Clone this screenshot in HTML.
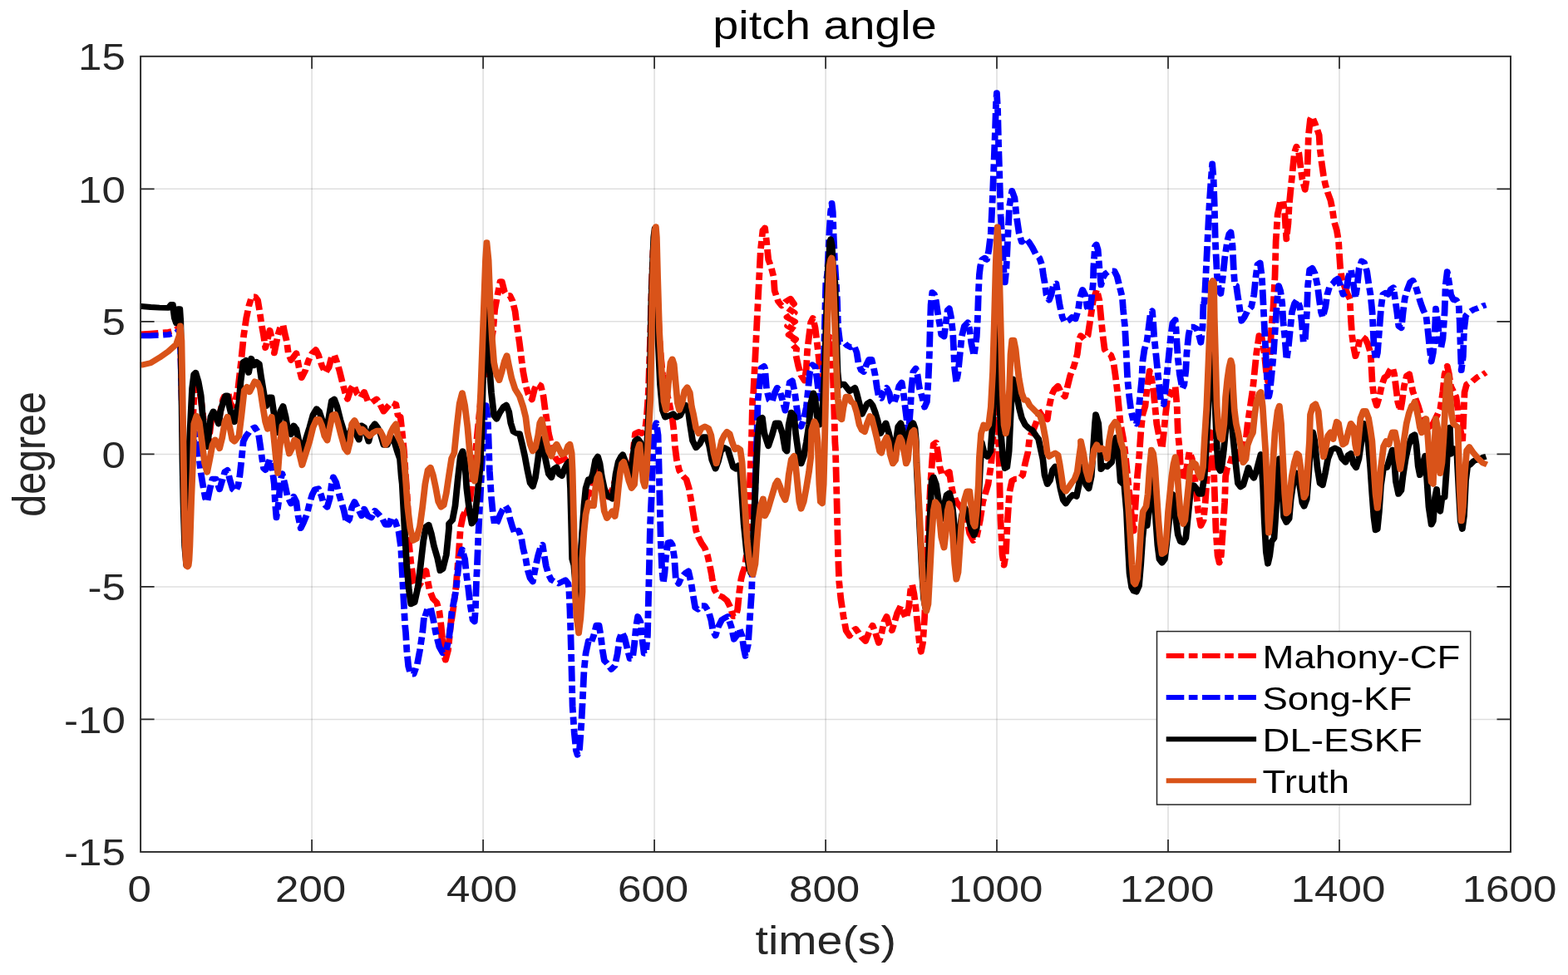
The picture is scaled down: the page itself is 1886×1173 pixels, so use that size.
<!DOCTYPE html>
<html lang="en"><head><meta charset="utf-8"><title>pitch angle</title>
<style>html,body{margin:0;padding:0;background:#fff;}body{width:1886px;height:1173px;overflow:hidden;}svg{display:block;}text{font-family:"Liberation Sans",sans-serif;}</style></head><body>
<svg width="1886" height="1173" viewBox="0 0 1886 1173">
<rect x="0" y="0" width="1886" height="1173" fill="#ffffff"/>
<path d="M375.1 67.8V1024.9M581.1 67.8V1024.9M787.1 67.8V1024.9M993.1 67.8V1024.9M1199.0 67.8V1024.9M1405.0 67.8V1024.9M1611.0 67.8V1024.9" stroke="#262626" stroke-opacity="0.15" stroke-width="1.6" fill="none"/>
<path d="M169.1 865.4H1817.0M169.1 705.9H1817.0M169.1 546.4H1817.0M169.1 386.8H1817.0M169.1 227.3H1817.0" stroke="#262626" stroke-opacity="0.15" stroke-width="1.5" fill="none"/>
<g fill="none" stroke-width="6.9" stroke-linejoin="round" stroke-linecap="butt" transform="scale(1.130 1)">
<polyline points="150.0,402.0 160.4,401.1 169.8,400.3 179.2,399.4 184.8,398.2 188.6,395.6 190.8,393.1 191.9,403.7 193.3,467.4 194.6,531.1 196.1,603.7 197.4,656.8 199.1,675.9 201.0,656.8 202.5,603.7 203.6,561.2 205.1,509.9 207.0,467.4 208.9,454.6 211.1,463.1 213.9,480.1 216.7,505.6 219.6,526.8 221.4,535.3 223.3,520.5 225.2,503.5 228.0,497.1 230.3,503.5 232.7,507.7 235.0,492.9 237.4,480.1 240.2,473.8 243.1,473.8 244.9,484.4 247.2,488.6 250.2,484.4 253.4,467.4 256.6,435.5 259.4,403.7 262.2,382.5 265.0,367.6 267.9,357.0 271.6,357.0 274.4,361.2 276.3,374.0 278.2,388.8 280.6,403.7 282.5,418.6 284.4,410.1 287.2,397.3 290.0,410.1 291.9,424.9 295.7,403.7 298.5,393.1 301.3,391.0 303.2,401.6 305.1,410.1 306.9,424.9 309.8,433.4 312.6,429.2 315.4,424.9 318.2,441.9 321.0,454.6 324.8,446.2 328.5,433.4 332.3,424.9 336.1,420.7 338.9,427.0 342.6,439.8 346.4,448.3 350.1,441.9 353.0,429.2 355.8,427.0 358.6,435.5 361.4,446.2 364.2,458.9 367.1,471.6 369.9,480.1 373.6,467.4 376.5,463.1 380.2,473.8 384.0,478.0 387.7,471.6 391.5,482.3 395.2,484.4 400.9,480.1 404.6,486.5 408.4,495.0 413.1,488.6 416.8,484.4 421.5,486.5 423.4,499.2 426.2,501.4 428.1,520.5 430.0,541.7 431.9,573.5 433.8,603.7 435.6,656.8 437.5,678.0 440.3,699.2 444.1,707.7 447.9,701.4 450.7,690.7 453.5,686.5 455.4,699.2 457.2,709.9 461.0,720.5 464.8,724.7 467.6,735.3 469.5,752.3 471.3,773.5 469.5,757.0 471.3,782.5 474.2,794.1 477.0,782.5 478.9,761.2 480.7,740.0 479.8,752.3 482.6,731.1 485.4,705.6 488.2,667.4 490.1,635.5 492.9,620.7 495.6,614.3 496.7,617.1 499.5,608.6 502.3,583.1 505.1,555.5 507.9,523.7 510.8,491.8 513.6,460.0 516.4,451.1 519.2,434.1 522.0,417.1 524.8,398.0 526.7,372.5 529.5,355.5 532.4,338.6 534.2,338.6 537.1,351.3 539.9,355.5 542.7,355.5 545.5,361.9 548.3,374.6 550.2,391.6 553.0,412.9 554.9,429.9 556.8,446.8 559.6,463.8 562.4,474.4 566.2,480.8 569.0,468.1 571.8,461.7 575.6,463.8 578.4,476.6 580.3,493.5 582.2,506.7 584.0,521.6 585.9,530.1 588.7,542.8 591.5,551.3 594.4,555.5 598.1,553.4 601.9,551.3 605.6,549.2 607.9,555.5 609.0,587.4 610.0,629.9 610.9,672.3 612.2,690.6 614.1,711.8 615.4,718.2 616.9,701.2 617.9,680.0 618.8,661.7 620.7,629.9 622.6,608.6 625.4,595.9 628.2,593.8 631.0,587.4 633.8,570.4 636.3,564.0 638.5,572.5 640.4,585.3 643.2,595.9 647.0,598.0 651.7,589.5 654.5,578.9 657.3,566.2 660.1,557.7 662.9,555.5 665.8,561.9 668.6,570.4 671.4,566.2 673.3,549.2 676.1,521.6 679.9,519.4 682.7,521.6 686.4,519.4 688.3,502.5 690.2,470.6 692.1,408.6 693.6,344.9 695.1,302.5 696.6,291.8 698.1,323.7 700.0,366.2 702.6,419.2 705.4,451.1 708.6,468.1 712.0,482.9 714.6,497.8 715.6,502.5 717.4,519.4 718.4,536.4 720.3,553.4 723.1,566.2 726.8,572.5 730.6,576.8 733.4,587.4 735.3,600.1 737.2,612.9 739.0,625.6 740.9,638.3 743.7,646.8 746.6,653.2 750.3,659.6 753.1,668.1 756.0,682.9 757.8,693.5 757.8,694.9 760.6,709.7 764.4,716.1 769.1,718.2 773.8,722.5 777.6,731.0 780.4,741.6 783.2,741.6 785.1,733.1 787.0,711.8 788.8,697.0 790.7,688.5 792.6,682.9 795.4,661.7 797.3,608.6 798.8,566.2 800.1,523.7 801.0,481.2 802.0,472.3 803.9,429.9 805.7,387.4 807.6,344.9 809.5,302.5 811.9,277.0 813.8,274.9 814.2,274.1 816.0,291.1 817.9,312.3 820.7,320.8 823.6,333.5 824.5,349.7 828.3,362.5 832.0,367.8 836.7,362.5 841.4,359.3 845.2,365.6 838.6,371.0 845.7,376.3 837.6,381.6 846.1,386.9 838.2,392.2 846.5,397.5 839.5,402.8 847.0,408.1 842.3,413.4 848.0,419.8 847.0,426.2 849.9,441.0 852.7,451.6 856.4,458.0 858.3,443.1 859.3,421.9 861.1,404.9 863.0,387.9 865.3,382.6 867.7,394.3 869.6,411.3 871.5,430.4 873.3,451.6 874.7,468.6 877.1,447.4 879.9,415.5 882.7,404.9 885.2,415.5 886.5,447.4 887.8,489.9 888.8,532.3 889.3,540.0 890.3,582.5 891.2,624.9 892.1,667.4 893.1,699.2 895.0,720.5 897.8,741.7 900.6,758.7 904.3,765.1 908.1,758.7 910.9,756.6 913.7,760.8 917.5,767.2 921.3,771.4 925.0,760.8 928.8,752.3 931.6,760.8 935.3,773.5 938.2,762.9 941.0,748.1 943.8,741.7 946.6,752.3 949.4,758.7 952.3,748.1 955.1,737.5 958.8,729.0 961.7,737.5 964.5,743.8 967.3,731.1 969.2,709.9 971.0,703.5 972.9,714.1 974.8,731.1 976.7,752.3 978.6,773.5 980.4,784.2 982.3,773.5 984.2,741.7 986.3,688.6 988.5,624.9 990.4,582.5 992.7,546.4 993.6,534.4 996.4,532.3 998.3,545.1 1000.2,561.2 1003.0,571.8 1006.7,569.7 1010.5,567.6 1012.4,582.5 1014.3,593.1 1018.0,603.7 1022.7,610.1 1028.4,620.7 1032.1,641.9 1035.9,650.4 1039.6,646.2 1043.4,624.9 1046.2,603.7 1049.0,593.1 1051.8,582.5 1054.7,561.2 1056.5,540.0 1058.0,500.5 1059.5,468.6 1061.0,455.9 1062.2,479.2 1063.1,532.3 1063.1,540.0 1064.1,582.5 1065.0,624.9 1066.9,667.4 1068.7,680.1 1070.6,667.4 1072.5,624.9 1074.4,593.1 1077.2,578.2 1081.0,576.1 1084.7,576.1 1088.5,571.8 1091.3,557.0 1094.1,544.2 1096.0,525.9 1099.8,517.5 1103.5,506.8 1107.3,496.2 1111.0,494.1 1114.8,504.7 1116.7,489.9 1119.5,475.0 1122.3,468.6 1126.1,464.4 1129.8,472.9 1133.6,477.1 1136.4,464.4 1139.2,451.6 1143.0,441.0 1146.7,426.2 1148.6,409.2 1150.4,403.7 1154.2,407.9 1158.0,403.7 1160.8,382.5 1163.6,361.2 1167.4,348.5 1170.2,361.2 1172.0,382.5 1173.9,403.7 1175.8,420.7 1178.6,424.9 1182.4,427.0 1185.2,435.5 1187.1,450.4 1189.0,467.4 1190.8,488.6 1192.7,509.9 1195.5,526.8 1197.4,541.7 1199.3,562.9 1201.2,583.7 1203.1,604.9 1204.9,626.2 1206.8,638.9 1208.7,604.9 1210.6,573.1 1212.4,552.3 1214.3,520.5 1216.2,499.2 1219.0,488.6 1220.9,467.4 1223.7,446.2 1225.6,454.6 1227.5,467.4 1229.4,488.6 1231.2,509.9 1234.1,526.8 1236.9,539.6 1238.8,520.5 1240.6,499.2 1242.5,480.1 1245.3,475.9 1248.1,467.4 1251.0,465.3 1252.8,488.6 1253.8,520.5 1255.7,541.7 1256.6,562.5 1259.4,577.3 1263.2,562.5 1266.0,543.4 1268.8,551.8 1271.6,573.1 1273.5,594.3 1275.4,615.5 1278.2,632.5 1281.0,626.2 1282.9,604.9 1284.8,573.1 1286.7,541.2 1288.5,520.0 1290.4,541.2 1292.3,573.1 1293.2,604.9 1294.2,636.8 1296.1,668.6 1297.9,677.1 1299.8,668.6 1301.7,636.8 1303.6,604.9 1304.5,573.1 1306.4,562.5 1309.2,558.2 1312.0,547.6 1315.8,543.4 1319.5,551.8 1323.3,541.2 1326.1,530.6 1328.0,509.9 1330.8,488.6 1333.6,467.4 1335.5,446.2 1337.4,424.9 1340.2,403.7 1343.0,405.8 1345.8,424.9 1347.7,446.2 1349.6,458.9 1351.5,435.5 1352.4,414.3 1353.4,393.1 1355.2,371.8 1357.1,332.3 1358.1,289.9 1359.9,258.0 1362.8,243.1 1365.6,241.0 1367.5,255.9 1368.4,272.9 1369.3,287.7 1371.2,268.6 1372.2,247.4 1374.0,226.2 1375.9,204.9 1377.8,183.7 1380.0,176.3 1382.5,183.7 1384.4,200.7 1386.2,215.5 1389.1,228.3 1390.9,215.5 1391.9,194.3 1392.8,162.5 1394.7,143.4 1396.6,140.2 1399.4,147.6 1402.2,156.1 1404.1,162.5 1405.0,179.4 1406.9,196.4 1408.8,211.3 1410.7,221.9 1413.5,232.5 1416.3,241.0 1418.2,251.6 1420.1,266.5 1422.9,277.1 1424.8,289.9 1425.7,306.8 1426.6,321.7 1428.5,336.6 1431.3,345.1 1434.2,353.5 1437.0,359.9 1437.2,369.2 1438.1,386.2 1439.1,403.1 1440.9,418.0 1442.8,428.6 1445.6,418.0 1447.5,407.4 1450.3,405.3 1453.1,407.4 1456.0,413.8 1458.8,424.4 1459.7,439.2 1460.7,460.5 1462.5,477.5 1465.4,488.1 1468.2,477.5 1471.0,462.6 1473.8,454.1 1476.6,452.0 1479.4,445.6 1482.3,442.4 1484.1,449.9 1486.0,466.8 1487.9,483.8 1490.7,494.4 1492.6,481.7 1494.5,464.7 1497.3,452.0 1500.1,449.9 1502.0,460.5 1503.9,471.1 1506.7,479.6 1509.5,488.1 1512.3,498.7 1515.1,505.1 1518.0,509.3 1521.7,513.5 1525.5,509.3 1529.2,500.8 1533.0,492.3 1535.8,471.1 1537.7,449.9 1540.5,440.3 1542.4,449.9 1544.3,464.7 1547.1,471.1 1549.9,477.5 1551.8,492.3 1553.7,513.5 1555.2,520.7 1556.7,533.4 1557.8,503.7 1558.9,471.8 1561.2,462.3 1566.8,459.1 1572.5,453.8 1578.1,450.6 1581.8,448.1" stroke="#ff0000" stroke-dasharray="18.6 5 9.2 5"/>
<polyline points="150.0,403.9 160.4,403.7 169.8,403.3 179.2,402.6 186.7,400.5 190.8,397.7 191.9,407.9 193.3,467.4 194.6,531.1 195.7,603.7 197.0,656.8 198.7,678.0 200.6,667.4 202.1,624.9 203.6,582.5 205.5,540.0 207.4,520.5 208.9,522.6 210.2,531.1 212.1,552.3 213.9,569.3 215.8,582.5 218.6,599.4 220.5,603.7 223.3,588.8 226.1,576.1 229.9,576.1 233.7,588.8 236.5,578.2 239.3,567.6 242.1,565.5 244.9,578.2 247.8,588.8 250.6,591.0 253.4,584.6 255.3,571.8 257.1,552.7 259.0,531.1 261.8,524.7 264.7,520.5 267.5,516.2 271.2,514.1 275.0,520.5 276.9,535.3 278.8,550.6 280.6,563.4 282.5,565.5 284.4,561.2 287.2,552.7 290.0,565.5 291.9,582.5 292.8,603.7 294.2,622.8 296.6,603.7 298.5,578.2 300.4,569.7 303.2,582.5 306.0,597.3 309.8,605.8 312.6,597.3 315.4,603.7 317.3,620.7 320.1,635.5 322.9,629.2 326.7,618.6 329.5,605.8 332.3,595.2 335.1,588.8 338.9,587.8 341.7,595.2 344.5,605.8 348.3,610.1 351.1,599.4 353.0,582.5 354.8,574.0 357.7,580.3 360.5,593.1 363.3,603.7 366.1,614.3 368.9,629.2 371.8,624.9 374.6,610.1 377.4,603.7 381.2,612.2 384.9,620.7 387.7,612.2 391.5,620.7 395.2,622.8 399.0,614.3 402.8,618.6 406.5,622.8 410.3,631.3 414.0,631.3 416.8,622.8 420.6,627.0 424.4,639.8 426.8,658.9 428.1,688.6 429.6,720.5 431.1,752.3 431.9,761.2 433.0,782.5 434.7,801.6 437.0,811.1 440.3,811.1 444.1,799.4 446.9,782.5 449.7,761.2 451.6,740.0 452.5,741.7 455.4,731.1 458.2,731.1 461.0,744.2 463.8,761.2 467.6,778.2 471.3,785.6 475.1,782.5 477.9,767.6 479.8,750.6 480.7,737.5 482.6,726.8 485.4,709.9 487.3,688.6 489.2,671.6 492.0,661.0 492.0,661.7 494.8,672.3 496.7,693.5 498.5,707.6 500.4,726.7 503.2,745.8 505.1,747.9 506.1,733.1 507.0,701.2 507.9,680.0 508.9,651.1 510.2,619.2 511.7,587.4 513.6,544.9 515.5,502.5 517.3,487.6 519.2,502.5 520.2,534.3 521.1,566.2 523.0,598.0 524.8,619.2 526.7,632.0 529.5,627.7 532.4,619.2 535.2,612.9 538.0,608.6 540.8,612.9 542.7,623.5 545.5,634.1 548.3,642.6 552.1,638.3 554.9,646.8 556.8,659.6 559.6,672.3 561.5,685.1 564.3,695.7 567.1,699.9 569.9,682.9 572.8,668.1 575.6,657.5 577.5,655.3 579.3,668.1 581.2,680.8 584.0,691.4 586.9,697.8 590.6,699.9 594.4,702.0 598.1,699.9 601.9,697.8 604.7,702.0 605.6,707.6 606.6,733.1 607.5,764.9 608.5,807.4 609.4,849.9 611.3,881.7 613.2,902.9 614.7,908.2 616.9,900.8 618.8,871.1 620.3,839.2 621.6,807.4 623.5,786.2 626.3,771.3 629.1,773.4 631.9,764.9 634.8,752.2 637.6,752.2 639.5,764.9 641.3,781.9 643.2,794.6 647.0,798.9 650.7,805.3 654.5,801.0 657.3,786.2 659.2,769.2 662.0,760.7 664.8,767.0 667.6,779.8 670.5,792.5 673.3,792.5 675.2,775.5 677.0,754.3 678.9,741.6 681.7,747.9 683.6,769.2 685.5,786.2 687.4,786.2 689.3,764.9 690.2,722.5 691.1,680.0 692.1,629.9 693.9,587.4 694.9,544.9 696.8,513.1 698.6,508.8 700.5,523.7 701.5,566.2 702.4,608.6 703.3,651.1 704.5,682.9 706.0,701.4 707.5,689.3 708.8,670.8 711.0,652.8 713.7,652.1 715.6,655.3 717.8,670.8 719.3,696.3 722.3,702.3 725.3,694.6 729.6,689.3 732.8,687.0 735.8,702.0 738.1,718.2 740.0,731.0 742.8,733.1 746.6,728.8 750.3,728.8 754.1,735.2 756.9,745.8 758.8,758.6 761.6,764.9 764.4,754.3 768.2,745.8 771.0,743.7 774.7,741.6 778.5,754.3 781.3,769.2 784.1,764.9 787.0,756.4 789.8,764.9 791.7,779.8 793.5,789.3 796.3,775.5 798.2,743.7 800.1,711.8 801.0,680.0 802.0,651.1 803.3,608.6 804.4,566.2 805.7,523.7 806.7,481.2 807.6,472.3 810.4,442.6 813.3,440.5 814.2,443.1 816.0,468.6 818.9,481.4 821.7,483.5 824.5,472.9 827.3,466.5 830.1,470.7 832.9,481.4 835.8,494.1 838.6,475.0 840.5,460.1 843.3,458.0 846.1,472.9 848.0,489.9 849.9,504.7 852.7,513.2 855.5,504.7 858.3,489.9 860.2,468.6 862.1,447.4 864.9,438.9 867.7,441.0 869.6,455.9 871.5,472.9 873.3,479.2 875.2,468.6 877.1,426.2 878.0,383.7 879.0,341.2 880.7,329.3 881.8,301.7 882.9,276.2 884.1,255.0 885.4,244.4 886.5,255.0 887.2,280.5 888.4,312.3 889.9,337.8 891.2,362.5 892.1,394.3 894.0,411.3 897.8,411.3 901.5,415.5 905.3,417.7 909.0,415.5 911.9,424.0 913.7,436.8 916.6,445.3 919.4,447.4 922.2,438.9 925.0,432.5 927.8,432.5 929.7,441.0 931.6,451.6 933.5,466.5 935.3,477.1 938.2,479.2 941.0,470.7 943.8,466.5 946.6,472.9 948.5,483.5 951.3,485.6 954.1,477.1 957.0,464.4 959.8,460.1 961.7,472.9 963.5,489.9 965.4,506.8 967.3,517.5 969.2,489.9 970.1,468.6 972.0,447.4 974.8,443.1 976.7,451.6 978.6,466.5 981.4,477.1 984.2,489.9 986.6,483.5 988.1,458.0 989.3,426.2 990.0,394.3 990.8,366.7 992.3,351.8 994.5,354.0 996.4,362.5 998.3,377.3 1000.2,390.1 1002.0,402.8 1004.9,404.9 1006.7,390.1 1008.6,373.1 1010.5,371.0 1012.4,381.6 1014.3,400.7 1015.2,421.9 1016.1,443.1 1018.0,460.1 1019.9,447.4 1021.8,426.2 1023.7,404.9 1026.5,392.2 1030.2,387.9 1032.1,396.4 1034.0,413.4 1036.8,428.3 1039.6,404.9 1040.6,383.7 1041.5,351.8 1042.4,330.6 1043.4,320.8 1045.3,312.3 1048.1,310.2 1050.5,312.3 1052.4,301.7 1054.7,280.5 1056.5,238.0 1058.0,195.5 1059.4,153.1 1060.3,121.2 1061.0,111.7 1062.0,131.8 1062.9,174.3 1064.1,216.8 1065.2,259.2 1066.9,291.1 1068.2,322.9 1069.7,339.9 1071.2,322.9 1072.5,291.1 1074.4,248.6 1077.2,229.5 1080.0,238.0 1081.9,259.2 1084.7,280.5 1087.5,291.1 1091.3,286.8 1095.1,291.1 1098.8,297.5 1102.6,305.9 1106.3,310.2 1109.1,318.7 1110.6,331.4 1112.0,339.9 1113.8,354.8 1116.7,361.1 1118.9,354.8 1121.4,342.0 1124.2,341.0 1126.1,354.0 1127.9,366.7 1130.8,381.6 1133.6,387.9 1137.3,385.8 1141.1,381.6 1144.8,383.7 1147.7,373.1 1149.5,358.2 1152.3,348.5 1155.1,354.9 1157.2,369.7 1160.2,374.0 1162.1,357.0 1163.6,340.0 1164.0,321.7 1165.5,296.2 1167.0,294.1 1168.7,300.5 1170.2,321.7 1172.0,342.9 1173.9,334.4 1176.7,329.1 1179.6,327.0 1182.4,325.9 1186.1,325.9 1189.0,332.3 1191.8,345.1 1194.6,357.8 1195.5,371.8 1197.4,393.1 1198.4,414.3 1199.3,435.5 1200.2,456.8 1202.1,478.0 1204.0,495.0 1206.8,507.7 1209.6,509.9 1211.5,499.2 1213.4,478.0 1215.3,456.8 1216.2,435.5 1218.1,420.7 1220.9,410.1 1222.8,393.1 1224.7,376.1 1226.5,374.0 1227.5,386.7 1228.4,403.7 1230.3,424.9 1232.2,446.2 1234.1,467.4 1235.9,484.4 1238.8,486.5 1240.6,467.4 1242.5,446.2 1244.4,424.9 1246.3,403.7 1248.1,388.8 1251.0,384.6 1251.9,397.3 1252.8,414.3 1253.8,431.3 1255.7,450.4 1258.5,467.4 1260.4,463.1 1262.2,446.2 1263.2,424.9 1265.1,403.7 1266.9,393.1 1269.8,393.1 1273.5,395.2 1276.3,403.7 1278.2,412.2 1280.1,393.1 1281.0,361.2 1282.0,364.2 1283.5,332.3 1285.3,289.9 1287.2,247.4 1289.1,215.5 1290.4,196.9 1291.7,215.5 1292.7,247.4 1293.6,289.9 1295.5,332.3 1297.4,349.3 1299.4,353.5 1301.7,332.3 1303.6,311.1 1306.4,289.9 1308.3,281.4 1310.1,279.2 1312.0,296.2 1313.0,321.7 1314.3,342.9 1316.0,343.7 1317.3,354.3 1318.8,364.9 1321.6,386.2 1324.4,381.9 1328.2,373.4 1332.0,369.2 1334.8,354.3 1336.7,333.1 1338.5,318.2 1341.3,316.1 1343.2,333.1 1344.2,354.3 1345.1,375.5 1346.0,396.8 1347.0,418.0 1347.9,439.2 1348.9,460.5 1349.8,481.7 1351.7,471.1 1353.6,449.9 1355.4,428.6 1357.3,396.8 1359.2,364.9 1361.1,343.7 1363.0,350.1 1364.8,364.9 1365.8,386.2 1367.7,407.4 1369.5,432.9 1371.4,418.0 1373.3,396.8 1375.2,375.5 1378.0,364.9 1380.8,360.7 1383.6,369.2 1385.5,386.2 1387.4,411.6 1389.3,407.4 1391.1,375.5 1392.1,343.7 1394.0,324.6 1396.8,322.5 1399.6,328.8 1402.4,343.7 1404.3,360.7 1406.2,375.5 1408.0,381.9 1410.9,369.2 1412.7,354.3 1415.6,343.7 1418.4,341.6 1421.2,337.3 1424.0,335.2 1426.8,343.7 1429.7,354.3 1432.5,352.2 1435.3,333.1 1438.1,324.6 1440.9,343.7 1442.8,358.6 1444.7,343.7 1446.6,322.5 1449.4,314.0 1452.2,316.1 1455.0,326.7 1456.9,341.6 1458.8,354.3 1460.7,375.5 1461.6,396.8 1462.5,418.0 1464.4,432.9 1466.3,424.4 1468.2,396.8 1470.1,369.2 1471.9,354.3 1474.7,352.2 1477.6,354.3 1480.4,347.9 1483.2,345.8 1485.1,360.7 1487.0,375.5 1488.8,392.5 1491.7,394.6 1493.5,375.5 1495.4,358.6 1498.2,347.9 1501.1,339.4 1503.9,337.3 1506.7,343.7 1509.5,354.3 1512.3,364.9 1515.1,373.4 1518.0,379.8 1519.8,396.8 1521.7,418.0 1523.6,435.0 1525.5,424.4 1527.4,396.8 1528.3,371.3 1530.2,386.2 1532.1,407.4 1533.9,418.0 1535.8,407.4 1537.7,375.5 1538.6,343.7 1540.5,326.7 1542.4,339.4 1544.3,354.3 1547.1,360.7 1549.9,360.7 1552.7,364.9 1553.7,386.2 1554.6,418.0 1555.5,445.6 1557.4,428.6 1558.4,396.8 1560.2,379.8 1564.0,375.5 1568.7,372.4 1574.3,370.2 1578.1,368.1 1581.8,367.0" stroke="#0000ff" stroke-dasharray="18.6 5 9.2 5"/>
<polyline points="150.0,368.5 160.4,369.5 169.8,370.1 179.2,370.4 182.0,366.5 183.9,366.5 185.7,382.5 187.6,388.8 189.5,371.8 191.4,371.8 192.3,386.7 192.7,424.9 193.5,488.6 194.2,552.3 195.1,603.7 196.6,656.8 198.5,680.1 200.2,656.8 201.3,603.7 202.1,561.2 199.8,573.5 201.7,531.1 204.5,467.4 206.4,450.4 208.3,448.3 211.1,458.9 213.9,475.9 215.8,501.4 218.6,526.8 220.5,537.5 222.4,520.5 224.3,501.4 227.1,495.0 229.9,501.4 232.7,509.9 234.6,495.0 237.4,484.4 240.2,475.9 242.1,475.9 244.0,488.6 246.8,501.4 249.6,507.7 251.5,497.1 254.3,484.4 256.2,458.9 259.0,435.5 261.8,433.4 264.7,448.3 267.5,431.3 270.3,439.8 273.1,435.5 275.9,437.7 277.8,452.5 280.6,471.6 283.4,488.6 286.3,478.0 289.1,478.0 291.0,492.9 293.8,514.1 295.7,520.5 298.5,495.0 301.3,488.6 304.1,501.4 306.9,520.5 309.8,522.6 312.6,512.0 315.4,516.2 318.2,531.1 321.0,543.8 324.8,531.1 329.5,514.1 333.2,499.2 337.0,491.8 339.8,495.0 343.6,507.7 347.3,520.5 350.1,501.4 353.0,482.3 355.8,480.1 358.6,488.6 362.4,505.6 367.1,522.6 369.9,531.1 372.7,520.5 374.6,512.0 378.3,520.5 382.1,529.0 384.9,512.0 387.7,514.1 392.4,531.1 396.2,514.1 399.0,509.9 401.8,514.1 404.6,520.5 408.4,535.3 412.2,535.3 415.9,524.7 419.7,531.1 422.5,541.7 425.7,552.3 427.2,573.5 428.1,582.5 430.6,635.5 432.8,678.0 435.3,709.9 437.5,726.8 441.3,724.7 445.0,705.6 447.9,678.0 450.7,650.4 453.5,633.4 456.3,631.3 459.1,641.9 461.9,656.8 465.7,671.6 468.5,686.5 471.3,684.4 475.1,667.4 477.9,635.5 477.9,629.9 481.6,625.6 484.5,608.6 487.3,576.8 490.1,549.2 492.5,542.8 494.8,555.5 496.7,587.4 499.5,612.9 502.3,629.9 505.1,625.6 507.9,598.0 510.8,566.2 512.6,523.7 514.0,460.0 515.1,429.9 516.0,376.8 517.0,344.9 518.3,387.4 520.2,429.9 523.0,472.3 525.8,499.9 528.6,504.2 532.4,495.7 536.1,489.3 538.9,487.2 541.8,495.7 543.6,508.8 546.5,519.4 550.2,521.6 553.0,521.6 555.8,534.3 558.7,549.2 561.5,566.2 564.3,581.0 567.1,585.3 569.9,574.6 572.8,551.3 574.6,532.2 576.5,527.9 578.4,540.7 581.2,555.5 584.0,570.4 586.9,574.6 589.7,564.0 592.5,561.9 595.3,570.4 598.1,572.5 600.9,564.0 603.8,557.7 605.6,555.5 607.1,587.4 608.1,629.9 609.0,672.3 610.9,680.0 612.8,705.5 614.7,718.2 616.2,705.5 616.9,680.0 617.9,672.3 619.7,640.5 621.6,608.6 623.5,587.4 626.3,576.8 628.2,578.9 631.0,570.4 633.8,553.4 636.3,549.2 638.5,557.7 640.4,572.5 643.2,587.4 646.0,595.9 648.9,598.0 651.7,600.1 653.6,587.4 655.4,570.4 658.2,555.5 661.1,549.2 662.9,547.0 665.8,555.5 668.6,566.2 671.4,574.6 674.2,544.9 676.1,530.1 678.9,527.9 681.7,532.2 683.6,555.5 685.5,574.6 687.4,555.5 689.8,513.1 691.7,470.6 693.2,366.2 694.5,323.7 695.8,285.5 697.0,274.9 698.1,285.5 699.2,344.9 700.5,408.6 702.6,461.7 705.2,493.5 708.0,502.0 712.7,499.9 716.5,497.8 720.3,502.0 724.0,499.9 726.8,493.5 729.6,487.2 732.5,493.5 734.3,508.8 737.2,530.1 740.9,538.6 744.7,534.3 748.4,525.8 752.2,525.8 755.0,536.4 757.8,553.4 761.6,564.0 764.4,555.5 767.2,542.8 771.0,538.6 774.7,540.7 777.6,551.3 780.4,561.9 783.2,564.0 786.0,559.8 787.9,566.2 789.8,598.0 791.7,629.9 794.5,661.7 797.3,682.9 799.2,689.3 801.0,661.7 802.9,619.2 804.8,566.2 806.7,523.7 808.6,504.6 811.4,502.5 813.3,519.4 814.2,523.8 817.9,536.6 821.7,523.8 825.4,509.0 829.2,509.0 832.9,521.7 835.8,540.8 837.6,542.9 839.5,511.1 842.3,496.2 845.2,500.5 847.0,521.7 849.9,545.1 852.7,557.8 855.5,549.3 858.3,532.3 861.1,511.1 863.0,485.6 865.8,472.9 867.7,479.2 869.6,500.5 872.4,511.1 875.2,500.5 877.7,447.4 879.5,383.7 881.4,320.0 882.6,312.3 883.3,291.1 884.2,287.9 885.6,295.3 886.7,322.9 888.9,341.2 890.3,404.9 891.6,447.4 893.1,464.4 895.9,462.3 898.7,462.3 901.5,466.5 904.3,470.7 907.2,468.6 910.0,466.5 911.9,472.9 914.7,485.6 917.5,498.3 920.3,492.0 923.1,485.6 926.0,483.5 928.8,487.7 931.6,496.2 934.4,506.8 937.2,521.7 940.0,515.3 942.9,509.0 945.7,519.6 948.5,532.3 951.3,540.8 954.1,528.1 956.0,513.2 958.8,509.0 960.7,517.5 962.6,532.3 964.5,540.8 967.3,521.7 970.1,511.1 972.0,509.0 973.9,515.3 975.2,532.3 975.7,561.2 977.6,603.7 979.5,646.2 981.4,688.6 983.3,720.5 985.1,731.1 987.0,709.9 988.5,667.4 989.8,624.9 991.7,578.2 993.6,574.0 996.4,582.5 999.2,603.7 1002.0,624.9 1004.9,607.9 1007.7,595.2 1010.5,593.1 1013.3,603.7 1015.2,624.9 1017.1,656.8 1019.0,667.4 1020.8,646.2 1023.7,620.7 1026.5,610.1 1028.4,614.3 1031.2,624.9 1034.0,637.7 1036.8,644.0 1039.6,635.5 1041.5,603.7 1043.4,561.2 1044.9,532.3 1047.1,542.9 1050.9,549.3 1054.3,542.9 1056.5,511.1 1058.4,447.4 1059.9,383.7 1061.0,362.5 1062.2,404.9 1063.5,468.6 1065.4,521.7 1067.4,549.3 1069.7,563.5 1071.9,562.0 1074.0,542.9 1075.7,500.5 1077.2,468.6 1078.1,455.9 1080.0,458.0 1081.9,472.9 1084.7,489.9 1087.5,502.6 1091.3,511.1 1095.1,515.3 1098.8,517.5 1102.6,523.8 1105.4,528.1 1108.2,542.9 1110.1,552.7 1112.0,571.8 1114.8,582.5 1117.6,578.2 1120.4,565.5 1123.2,561.2 1126.1,571.8 1128.9,588.8 1131.7,601.6 1134.5,605.8 1138.3,599.4 1142.0,595.2 1145.8,597.3 1148.6,582.5 1150.5,561.2 1150.4,562.5 1153.3,573.1 1156.1,583.7 1158.9,587.9 1161.7,573.1 1163.6,541.2 1165.5,509.4 1166.4,498.8 1169.2,509.4 1171.1,541.2 1172.0,564.6 1174.9,560.3 1178.6,561.4 1183.3,556.1 1186.1,530.6 1188.0,526.4 1190.8,551.8 1192.7,579.4 1196.7,583.7 1199.1,615.5 1200.8,658.0 1202.3,689.9 1204.6,706.8 1206.8,711.1 1209.6,712.1 1212.4,704.7 1214.3,679.2 1216.2,647.4 1218.1,626.2 1220.9,632.5 1222.8,615.5 1224.7,583.7 1226.5,573.1 1228.4,594.3 1230.3,626.2 1232.2,655.9 1234.1,672.9 1236.9,677.1 1239.7,672.9 1241.6,655.9 1244.4,626.2 1246.3,604.9 1248.1,594.3 1250.0,604.9 1251.9,626.2 1253.8,643.1 1256.6,651.6 1259.4,652.7 1262.2,647.4 1264.1,626.2 1266.0,604.9 1267.9,583.7 1270.7,583.7 1273.5,587.9 1276.3,594.3 1279.1,594.3 1282.0,573.1 1283.8,541.2 1285.7,498.8 1288.0,445.7 1290.2,413.8 1292.1,435.1 1293.8,498.8 1295.5,541.2 1297.0,562.5 1298.9,566.7 1300.8,558.2 1302.6,541.2 1304.5,520.0 1306.4,488.2 1308.3,466.9 1310.1,488.2 1312.0,520.0 1313.9,541.2 1315.8,562.5 1317.7,581.6 1320.5,585.8 1323.3,583.7 1326.1,573.1 1328.9,562.5 1331.8,571.0 1334.6,575.2 1337.4,566.7 1339.3,558.2 1342.1,546.5 1344.3,583.7 1345.8,626.2 1347.7,664.4 1349.6,678.2 1351.5,668.6 1353.4,651.6 1356.2,647.4 1358.1,615.5 1359.9,573.1 1361.8,551.8 1364.6,583.7 1366.5,621.9 1369.3,628.3 1372.2,624.0 1374.0,600.7 1376.8,579.4 1379.7,568.8 1383.4,583.7 1386.2,604.9 1388.1,609.2 1390.9,600.7 1392.8,573.1 1394.7,541.2 1397.5,520.0 1399.4,530.6 1402.2,562.5 1405.0,581.6 1407.8,583.7 1410.7,568.8 1413.5,551.8 1417.2,541.2 1421.0,539.1 1424.8,541.2 1428.5,551.8 1432.3,556.1 1435.1,547.6 1437.9,545.5 1440.7,558.2 1443.5,562.5 1446.4,551.8 1449.2,530.6 1452.0,509.4 1454.8,515.8 1456.7,537.0 1458.6,562.5 1460.5,594.3 1462.3,621.9 1464.2,637.8 1466.1,636.8 1468.0,615.5 1469.9,583.7 1472.7,562.5 1476.4,562.5 1479.2,551.8 1482.1,541.2 1483.9,551.8 1485.8,579.4 1488.6,594.3 1491.5,590.1 1493.3,573.1 1496.2,551.8 1499.0,537.0 1501.8,528.5 1502.9,524.9 1505.8,522.8 1507.6,535.5 1509.5,561.0 1511.4,571.6 1514.2,558.9 1517.0,548.3 1518.9,578.0 1520.8,609.9 1523.6,631.1 1525.5,626.8 1527.4,599.2 1529.2,588.6 1531.1,609.9 1533.0,615.2 1534.9,599.2 1537.7,598.2 1539.6,567.4 1541.5,524.9 1543.3,514.3 1544.3,546.2 1548.0,539.8 1550.8,546.2 1552.7,588.6 1554.6,626.8 1556.5,636.4 1558.4,620.5 1560.2,578.0 1562.1,561.0 1564.9,558.9 1568.7,554.6 1574.3,552.5 1578.1,550.4 1581.8,549.3" stroke="#000000" />
<polyline points="150.0,439.4 160.4,436.6 169.8,430.2 179.2,422.8 187.6,414.3 190.8,403.7 191.9,392.0 193.3,410.1 194.2,467.4 195.1,531.1 196.1,603.7 197.2,656.8 198.0,675.9 198.7,681.0 199.7,681.8 200.6,680.1 201.3,673.8 202.1,656.8 203.6,603.7 205.1,561.2 206.4,509.9 209.2,500.3 212.1,507.7 214.9,531.1 217.7,556.6 220.5,568.2 223.3,552.3 226.1,535.3 229.0,529.0 231.8,535.3 233.7,539.6 236.5,526.8 239.3,507.7 242.1,501.4 244.6,514.1 247.2,529.0 249.6,531.1 252.4,526.8 254.3,524.7 257.1,499.2 260.0,469.5 262.8,465.3 265.6,471.6 268.4,465.3 271.2,458.9 274.1,460.0 276.9,467.4 279.7,488.6 282.5,507.7 284.8,516.2 287.2,505.6 289.1,501.4 291.0,520.5 293.8,552.3 295.7,569.3 297.5,541.7 300.4,512.0 302.2,509.9 305.1,531.1 307.9,545.9 310.7,539.6 313.5,529.0 316.3,531.1 319.1,548.1 321.6,559.7 324.8,548.1 329.5,531.1 333.2,514.1 337.0,504.5 339.8,504.5 342.6,512.0 345.5,524.7 348.3,530.0 351.1,514.1 353.9,499.2 356.7,498.2 359.5,507.7 363.3,524.7 367.1,539.6 369.9,543.8 372.7,531.1 374.6,509.9 377.4,505.6 380.2,512.0 384.0,520.5 385.8,516.2 389.6,520.5 393.4,524.7 397.1,520.5 400.9,518.3 404.6,518.3 407.5,524.7 410.3,535.3 413.1,531.1 415.9,520.5 418.7,514.1 421.5,509.9 423.4,524.7 426.2,531.1 429.1,540.0 431.5,571.8 433.9,610.1 436.6,635.5 439.8,650.4 443.2,648.3 446.9,633.4 449.7,610.1 452.5,582.5 455.4,565.5 458.2,562.3 461.0,571.8 463.8,586.7 466.6,603.7 469.5,610.1 472.3,607.9 475.1,593.1 477.9,571.8 480.7,551.3 483.5,544.9 486.3,513.1 489.1,485.5 492.0,472.7 494.8,487.6 497.6,513.1 500.4,549.2 503.2,574.6 505.1,578.9 507.9,555.5 509.8,513.1 511.7,470.6 515.1,366.2 516.8,313.1 518.1,291.8 520.0,313.1 521.8,366.2 523.9,408.6 525.8,436.2 528.6,451.1 531.4,457.5 534.2,446.8 537.1,434.1 539.5,427.7 541.8,440.5 544.6,455.3 548.3,468.1 553.0,476.6 556.8,489.3 559.6,502.0 561.5,519.4 564.3,534.3 567.1,542.8 569.9,538.6 572.8,523.7 574.6,508.8 576.5,504.6 578.4,515.2 581.2,530.1 584.0,542.8 586.9,549.2 589.7,538.6 592.5,534.3 595.3,540.7 598.1,547.0 601.9,544.9 604.7,536.4 606.6,534.3 608.5,544.9 609.4,566.2 610.3,608.6 611.3,651.1 612.2,693.5 612.0,711.8 613.9,743.7 616.0,761.7 618.0,743.7 619.9,711.8 619.7,672.3 621.6,640.5 623.5,619.2 626.3,604.4 629.1,608.6 631.9,608.6 633.8,587.4 635.7,574.6 637.6,570.4 639.5,581.0 641.3,598.0 643.2,615.0 646.0,623.5 648.9,619.2 651.7,615.0 654.5,621.4 656.4,608.6 658.2,587.4 660.1,568.3 662.0,557.7 663.9,555.5 666.7,566.2 669.5,578.9 672.3,587.4 675.2,583.1 677.0,561.9 678.9,540.7 680.8,534.3 682.7,555.5 684.6,578.9 686.4,585.3 688.3,566.2 690.2,523.7 692.3,481.2 694.3,355.5 695.8,302.5 697.1,277.0 698.1,272.7 699.0,285.5 700.1,334.3 701.8,398.0 704.5,451.1 706.7,482.9 709.0,493.5 711.4,461.7 713.7,436.2 715.6,432.0 717.4,438.3 719.3,461.7 721.2,485.1 723.1,493.5 725.9,485.1 728.7,470.2 731.5,465.9 734.3,472.3 736.2,489.3 738.1,498.2 740.9,515.2 743.7,521.6 746.6,515.2 750.3,513.1 754.1,515.2 756.9,523.7 759.7,544.9 762.5,557.7 765.3,544.9 768.2,530.1 771.0,523.7 773.8,519.4 776.6,521.6 779.4,532.2 782.3,540.7 785.1,538.6 787.9,540.7 789.8,555.5 791.7,587.4 793.5,619.2 795.4,651.1 797.3,672.3 799.2,687.2 801.4,691.4 803.9,678.7 805.7,651.1 807.6,625.6 809.5,608.6 812.3,600.1 814.2,620.7 817.0,614.3 819.8,603.7 822.6,593.1 825.4,582.5 827.7,578.2 830.1,584.6 832.9,595.2 835.8,601.6 837.6,593.1 839.5,571.8 842.3,552.7 845.2,548.5 847.0,561.2 848.9,582.5 850.8,603.7 852.7,612.2 855.5,603.7 858.3,586.7 861.1,567.6 863.0,550.6 863.9,517.5 866.8,506.8 868.6,511.1 870.5,532.3 872.0,582.5 873.3,603.7 875.2,605.8 876.7,582.5 877.7,540.0 879.9,426.2 881.4,362.5 882.9,320.0 884.2,312.3 885.2,310.2 886.3,316.6 887.8,362.5 889.7,426.2 891.8,479.2 894.0,502.6 895.9,504.7 897.8,489.9 900.6,477.1 903.4,477.1 906.2,483.5 909.0,485.6 911.9,496.2 914.7,511.1 917.5,517.5 920.3,519.6 923.1,509.0 926.0,500.5 927.8,502.6 930.7,515.3 933.5,528.1 936.3,542.9 938.2,545.1 941.0,532.3 943.8,525.9 945.7,532.3 947.6,547.2 950.4,557.8 953.2,553.5 955.1,536.6 957.9,525.9 959.8,530.2 962.6,545.1 964.5,557.8 966.3,553.5 968.2,532.3 971.0,519.6 972.9,517.5 974.8,532.3 975.7,557.0 976.7,571.8 978.6,614.3 980.4,656.8 982.3,699.2 984.2,726.8 986.1,735.3 988.0,726.8 989.8,688.6 991.7,646.2 993.6,614.3 995.5,603.7 998.3,607.9 1000.2,624.9 1002.0,646.2 1004.9,658.9 1006.7,641.9 1008.6,614.3 1010.5,605.8 1012.4,614.3 1014.3,646.2 1016.1,678.0 1018.0,697.1 1019.9,688.6 1021.8,656.8 1023.7,624.9 1026.5,601.6 1029.3,591.0 1032.1,591.0 1034.0,610.1 1035.9,629.2 1037.7,633.4 1039.6,614.3 1041.5,582.5 1042.4,550.6 1044.3,521.7 1047.1,511.1 1050.0,515.3 1052.4,511.1 1054.7,489.9 1056.7,447.4 1058.4,383.7 1059.9,320.0 1060.9,291.1 1061.8,273.0 1062.9,291.1 1065.0,383.7 1066.9,468.6 1068.7,511.1 1070.6,521.7 1072.5,511.1 1074.4,468.6 1075.7,426.2 1077.2,409.2 1079.1,409.2 1081.0,419.8 1082.8,438.9 1084.7,455.9 1087.5,472.9 1090.4,481.4 1093.2,481.4 1096.0,487.7 1099.8,492.0 1103.5,496.2 1107.3,500.5 1110.1,511.1 1112.9,528.1 1114.8,545.1 1116.7,549.3 1119.5,547.2 1123.2,545.1 1126.1,547.2 1127.9,557.8 1129.8,571.8 1131.7,586.7 1134.5,591.0 1137.3,586.7 1141.1,580.3 1143.9,576.1 1146.7,567.6 1148.6,550.6 1150.5,535.8 1150.4,530.6 1153.3,545.5 1156.1,566.7 1158.9,577.3 1161.7,562.5 1164.5,541.2 1167.4,534.9 1170.2,541.2 1173.0,539.1 1175.8,541.2 1178.6,551.8 1180.5,530.6 1183.3,513.6 1187.1,507.3 1189.9,511.5 1192.7,530.6 1195.9,541.2 1198.5,573.1 1201.4,615.5 1203.2,647.4 1204.9,679.2 1206.6,700.5 1208.3,703.0 1210.6,696.2 1212.4,672.9 1214.3,638.9 1216.6,615.5 1220.0,609.2 1221.8,594.3 1223.7,562.5 1225.6,541.2 1227.5,545.5 1229.4,562.5 1231.2,594.3 1233.1,626.2 1235.0,651.6 1236.9,666.5 1239.7,664.4 1241.6,647.4 1243.4,615.5 1245.3,594.3 1247.2,573.1 1249.1,558.2 1251.0,549.7 1252.8,562.5 1254.7,594.3 1256.6,619.8 1259.4,630.4 1261.3,626.2 1263.2,604.9 1265.1,583.7 1266.9,562.5 1269.8,556.1 1272.6,558.2 1275.4,568.8 1278.2,575.2 1280.5,562.5 1282.0,530.6 1284.4,488.6 1286.3,435.5 1288.2,382.5 1289.5,340.0 1290.4,339.1 1291.0,337.6 1291.5,339.1 1292.1,340.0 1292.7,382.5 1294.0,435.5 1295.3,488.6 1297.0,516.2 1298.9,526.8 1300.8,529.0 1303.0,509.9 1304.5,478.0 1306.4,456.8 1308.3,441.9 1310.1,433.4 1311.5,439.8 1312.6,467.4 1313.9,492.9 1315.8,509.9 1318.0,520.5 1321.4,541.7 1323.3,556.6 1326.1,552.3 1328.0,535.3 1330.8,526.8 1333.6,520.5 1335.5,499.2 1337.4,484.4 1340.2,473.8 1342.1,471.6 1344.0,488.6 1345.8,520.5 1347.0,541.2 1348.7,583.7 1349.8,626.2 1350.5,641.0 1351.7,626.2 1353.0,604.9 1354.7,562.5 1357.1,520.0 1359.9,494.5 1361.8,488.2 1363.7,509.4 1365.6,551.8 1367.5,594.3 1369.3,617.7 1371.2,615.5 1373.1,594.3 1375.0,573.1 1377.8,556.1 1380.6,545.5 1382.5,547.6 1384.4,562.5 1386.2,583.7 1388.1,598.6 1390.0,594.3 1391.9,562.5 1393.8,530.6 1394.7,498.8 1397.5,488.2 1400.3,486.0 1403.2,494.5 1405.0,515.8 1406.9,537.0 1408.8,549.7 1411.6,537.0 1413.5,524.2 1416.3,520.0 1419.1,528.5 1421.0,515.8 1422.9,507.3 1424.8,509.4 1426.6,522.1 1429.5,534.9 1432.3,532.7 1435.1,520.0 1437.9,509.4 1440.7,513.6 1442.6,534.9 1444.5,545.5 1446.4,524.2 1448.2,503.0 1451.1,494.5 1453.9,494.5 1456.7,503.0 1458.6,515.8 1460.5,530.6 1462.3,562.5 1464.2,594.3 1466.1,611.3 1468.0,594.3 1469.9,562.5 1472.7,537.0 1475.5,530.6 1478.3,534.9 1480.2,526.4 1482.1,520.0 1484.9,520.0 1486.8,530.6 1488.6,551.8 1490.5,564.6 1492.4,551.8 1494.3,530.6 1497.1,509.4 1499.9,496.6 1502.7,488.2 1502.9,491.0 1505.8,483.5 1507.6,491.0 1509.5,501.6 1511.4,514.3 1513.3,520.7 1515.1,510.1 1518.0,503.7 1519.8,524.9 1521.7,556.8 1523.6,580.1 1525.5,582.3 1527.4,524.9 1528.3,503.7 1530.2,514.3 1531.1,546.2 1533.0,569.5 1534.9,556.8 1536.8,524.9 1538.6,482.5 1540.5,454.9 1542.0,451.7 1543.3,471.8 1545.2,499.4 1547.1,510.1 1549.9,512.2 1551.8,514.3 1552.7,546.2 1553.7,588.6 1555.5,626.8 1557.4,609.9 1559.3,567.4 1561.2,541.9 1564.0,537.7 1567.8,544.0 1572.5,550.4 1578.1,556.8 1582.8,558.9" stroke="#d95319" />
</g>
<path d="M375.1 1024.9v-15.0M375.1 67.8v15.0M581.1 1024.9v-15.0M581.1 67.8v15.0M787.1 1024.9v-15.0M787.1 67.8v15.0M993.1 1024.9v-15.0M993.1 67.8v15.0M1199.0 1024.9v-15.0M1199.0 67.8v15.0M1405.0 1024.9v-15.0M1405.0 67.8v15.0M1611.0 1024.9v-15.0M1611.0 67.8v15.0M169.1 865.4h16.5M1817.0 865.4h-16.5M169.1 705.9h16.5M1817.0 705.9h-16.5M169.1 546.4h16.5M1817.0 546.4h-16.5M169.1 386.8h16.5M1817.0 386.8h-16.5M169.1 227.3h16.5M1817.0 227.3h-16.5" stroke="#262626" stroke-width="1.7" fill="none"/>
<rect x="169.1" y="67.8" width="1647.9" height="957.1" fill="none" stroke="#262626" stroke-width="1.9"/>
<text transform="translate(167.6 1085.0) scale(1.1350 1)" font-size="45.0" text-anchor="middle" fill="#262626" >0</text>
<text transform="translate(373.6 1085.0) scale(1.1350 1)" font-size="45.0" text-anchor="middle" fill="#262626" >200</text>
<text transform="translate(579.6 1085.0) scale(1.1350 1)" font-size="45.0" text-anchor="middle" fill="#262626" >400</text>
<text transform="translate(785.6 1085.0) scale(1.1350 1)" font-size="45.0" text-anchor="middle" fill="#262626" >600</text>
<text transform="translate(991.6 1085.0) scale(1.1350 1)" font-size="45.0" text-anchor="middle" fill="#262626" >800</text>
<text transform="translate(1197.5 1085.0) scale(1.1350 1)" font-size="45.0" text-anchor="middle" fill="#262626" >1000</text>
<text transform="translate(1403.5 1085.0) scale(1.1350 1)" font-size="45.0" text-anchor="middle" fill="#262626" >1200</text>
<text transform="translate(1609.5 1085.0) scale(1.1350 1)" font-size="45.0" text-anchor="middle" fill="#262626" >1400</text>
<text transform="translate(1815.5 1085.0) scale(1.1350 1)" font-size="45.0" text-anchor="middle" fill="#262626" >1600</text>
<text transform="translate(150.9 1041.3) scale(1.1350 1)" font-size="45.0" text-anchor="end" fill="#262626" >-15</text>
<text transform="translate(150.9 881.8) scale(1.1350 1)" font-size="45.0" text-anchor="end" fill="#262626" >-10</text>
<text transform="translate(150.9 722.3) scale(1.1350 1)" font-size="45.0" text-anchor="end" fill="#262626" >-5</text>
<text transform="translate(150.9 562.8) scale(1.1350 1)" font-size="45.0" text-anchor="end" fill="#262626" >0</text>
<text transform="translate(150.9 403.2) scale(1.1350 1)" font-size="45.0" text-anchor="end" fill="#262626" >5</text>
<text transform="translate(150.9 243.7) scale(1.1350 1)" font-size="45.0" text-anchor="end" fill="#262626" >10</text>
<text transform="translate(150.9 84.2) scale(1.1350 1)" font-size="45.0" text-anchor="end" fill="#262626" >15</text>
<text transform="translate(992.0 47.2) scale(1.1600 1)" font-size="48.0" text-anchor="middle" fill="#000000" >pitch angle</text>
<text transform="translate(993.3 1148.3) scale(1.1400 1)" font-size="48.7" text-anchor="middle" fill="#262626" >time(s)</text>
<text transform="translate(54.2 546.4) rotate(-90) scale(1 1.1330)" font-size="48.4" text-anchor="middle" fill="#262626">degree</text>
<rect x="1391.5" y="759.6" width="377.2" height="208.4" fill="#ffffff" stroke="#262626" stroke-width="1.5"/>
<line x1="1402.7" y1="789.0" x2="1511.1" y2="789.0" stroke="#ff0000" stroke-width="6.0" stroke-dasharray="21.6 5.5 10.7 5.5"/>
<text transform="translate(1518.5 803.6) scale(1.1680 1)" font-size="39.0" text-anchor="start" fill="#000000" >Mahony-CF</text>
<line x1="1402.7" y1="839.1" x2="1511.1" y2="839.1" stroke="#0000ff" stroke-width="6.0" stroke-dasharray="21.6 5.5 10.7 5.5"/>
<text transform="translate(1518.5 853.7) scale(1.1680 1)" font-size="39.0" text-anchor="start" fill="#000000" >Song-KF</text>
<line x1="1402.7" y1="889.2" x2="1511.1" y2="889.2" stroke="#000000" stroke-width="6.0" />
<text transform="translate(1518.5 903.8) scale(1.1680 1)" font-size="39.0" text-anchor="start" fill="#000000" >DL-ESKF</text>
<line x1="1402.7" y1="939.2" x2="1511.1" y2="939.2" stroke="#d95319" stroke-width="6.0" />
<text transform="translate(1518.5 953.8) scale(1.1680 1)" font-size="39.0" text-anchor="start" fill="#000000" >Truth</text>
</svg></body></html>
